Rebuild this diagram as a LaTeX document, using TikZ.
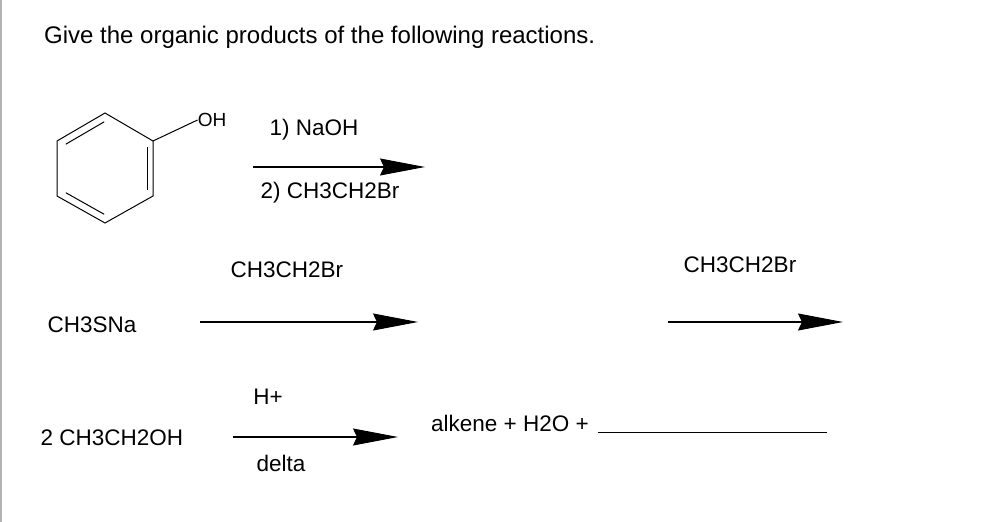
\documentclass[tikz,border=0pt]{standalone}
\usepackage{fontspec}
\setmainfont{Liberation Sans}
\usetikzlibrary{arrows.meta,calc}
\begin{document}
\begin{tikzpicture}[x=1pt,y=-1pt,
  lbl/.style={font=\fontsize{22.5}{26}\selectfont,inner sep=0pt},
  rxn/.style={line width=1.1pt,-{Stealth[length=45pt,width=17pt,inset=4pt]}},
  bond/.style={line width=1pt}]
\useasboundingbox (0,0) rectangle (1004,522);
\draw[gray!60,line width=2pt] (1,0) -- (1,522);
\node[lbl,anchor=west,font=\fontsize{24}{28}\selectfont] (title) at (44,37) {Give the organic products of the following reactions.};
% benzene
\coordinate (v1) at (105,113); \coordinate (v2) at (153,141); \coordinate (v3) at (153,196);
\coordinate (v4) at (105,223); \coordinate (v5) at (57,196); \coordinate (v6) at (57,141);
\draw[bond] (v1)--(v2)--(v3)--(v4)--(v5)--(v6)--cycle;
\draw[bond] ($(v6)!0.1!(v1)+(4,6)$) -- ($(v6)!0.9!(v1)+(4,6)$);
\draw[bond] (147,147) -- (147,190);
\draw[bond] ($(v4)!0.1!(v5)+(4,-6)$) -- ($(v4)!0.9!(v5)+(4,-6)$);
\node[lbl,font=\fontsize{19}{22}\selectfont] (oh) at (212,120) {OH};
\draw[bond] (v2) -- (oh.west);
% reaction 1
\coordinate (a1s) at (253,167); \coordinate (a1e) at (425,167);
\draw[rxn] (a1s) -- (a1e);
\node[lbl] (r1a) at (314,130) {1) NaOH};
\node[lbl] (r1b) at (330,193) {2) CH3CH2Br};
% reaction 2
\node[lbl] (s2) at (92,325) {CH3SNa};
\coordinate (a2s) at (200,322); \coordinate (a2e) at (418,322);
\draw[rxn] (a2s) -- (a2e);
\node[lbl] (r2) at (287,270) {CH3CH2Br};
\coordinate (a3s) at (668,322); \coordinate (a3e) at (843,322);
\draw[rxn] (a3s) -- (a3e);
\node[lbl] (r3) at (740,265) {CH3CH2Br};
% reaction 3
\node[lbl] (s4) at (112,438) {2 CH3CH2OH};
\coordinate (a4s) at (233,437); \coordinate (a4e) at (398,437);
\draw[rxn] (a4s) -- (a4e);
\node[lbl] (r4a) at (268,397) {H+};
\node[lbl] (r4b) at (281,463) {delta};
\node[lbl] (p4) at (510,423) {alkene + H2O +};
\coordinate (b1) at (598,432); \coordinate (b2) at (827,432);
\draw[line width=0.8pt] (b1) -- (b2);
\end{tikzpicture}
\end{document}
